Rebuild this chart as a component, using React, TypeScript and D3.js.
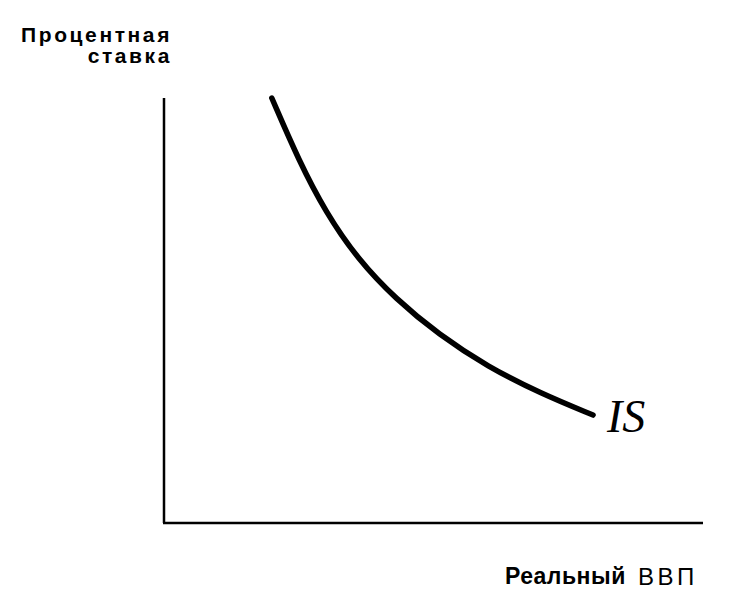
import React from 'react';
import * as d3 from 'd3';

const isX = [20, 25, 30, 36, 43, 51, 60, 70, 79.6];
const isY = [100, 85.3, 73.1, 62.0, 52.7, 44.3, 36.8, 30.4, 25.4];

const yTitle = ['Процентная', 'ставка'];
const xTitle = 'Реальный';
const xTitleAbbr = 'ВВП';
const curveLabel = 'IS';

const width = 754;
const height = 600;

const App = () => {
  const x = d3.scaleLinear().domain([0, 100]).range([164, 703]);
  const y = d3.scaleLinear().domain([0, 100]).range([523, 98]);

  const pts: [number, number][] = isX.map((v, i) => [v, isY[i]]);
  const line = d3
    .line<[number, number]>()
    .x((d) => x(d[0]))
    .y((d) => y(d[1]))
    .curve(d3.curveBasis);

  const last = pts[pts.length - 1];

  return (
    <svg
      width={width}
      height={height}
      style={{ position: 'absolute', left: 0, top: 0, background: '#fff' }}
    >
      {/* axes */}
      <line x1={x(0)} x2={x(0)} y1={y(100)} y2={y(0)} stroke="#000" strokeWidth={2.5} />
      <line x1={x(0) - 1} x2={x(100)} y1={y(0)} y2={y(0)} stroke="#000" strokeWidth={2.5} />

      <path d={line(pts) || ''} fill="none" stroke="#000" strokeWidth={5.5} strokeLinecap="round" />

      <text
        x={x(last[0]) + 14}
        y={y(last[1]) + 17}
        fontFamily="'Liberation Serif', serif"
        fontStyle="italic"
        fontSize={46}
        fill="#000"
      >
        {curveLabel}
      </text>

      <g fontFamily="'Liberation Sans', Arial, sans-serif" fontWeight="bold" fill="#000">
        <text x={172} y={42} fontSize={21} textAnchor="end" letterSpacing={2.6}>
          {yTitle[0]}
        </text>
        <text x={172} y={63} fontSize={21} textAnchor="end" letterSpacing={2.6}>
          {yTitle[1]}
        </text>
        <text x={505} y={584} fontSize={23} letterSpacing={0.5}>
          {xTitle}
        </text>
      </g>
      <text
        x={638}
        y={585}
        fontFamily="'Liberation Sans Narrow', 'Liberation Sans', sans-serif"
        fontSize={24}
        letterSpacing={3.5}
        fill="#000"
      >
        {xTitleAbbr}
      </text>
    </svg>
  );
};

export default App;
